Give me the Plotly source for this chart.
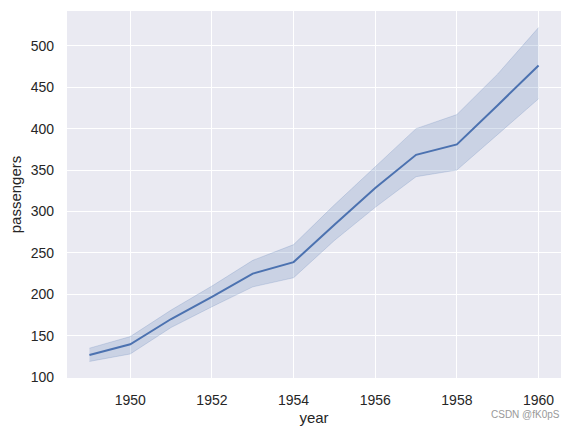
import plotly.graph_objects as go

years = [1949, 1950, 1951, 1952, 1953, 1954, 1955, 1956, 1957, 1958, 1959, 1960]
mean_passengers = [126.7, 139.7, 170.2, 197.0, 225.0, 238.9, 284.0, 328.3, 368.4, 381.0, 428.3, 476.2]
ci_lower = [119, 128, 160, 185, 209, 220, 265, 305, 342, 350, 393, 436]
ci_upper = [135, 149, 181, 210, 241, 260, 308, 354, 400, 417, 466, 522]
x_ticks = [1950, 1952, 1954, 1956, 1958, 1960]
y_ticks = [100, 150, 200, 250, 300, 350, 400, 450, 500]

line_color = "#4C72B0"
fig = go.Figure()
fig.add_trace(go.Scatter(x=years, y=ci_lower, mode="lines", line=dict(width=0.8, color="rgba(76,114,176,0.25)"),
                         showlegend=False, hoverinfo="skip"))
fig.add_trace(go.Scatter(x=years, y=ci_upper, mode="lines", line=dict(width=0.8, color="rgba(76,114,176,0.25)"),
                         fill="tonexty", fillcolor="rgba(76,114,176,0.2)", showlegend=False, hoverinfo="skip"))
fig.add_trace(go.Scatter(x=years, y=mean_passengers, mode="lines", line=dict(width=2, color=line_color),
                         showlegend=False))

font = "Liberation Sans, Arial, sans-serif"
fig.update_layout(
    width=576, height=430,
    margin=dict(l=67, r=15, t=11, b=52),
    paper_bgcolor="white", plot_bgcolor="#EAEAF2",
    font=dict(family=font, size=14, color="#262626"),
    xaxis=dict(range=[1948.45, 1960.55], tickvals=x_ticks, showgrid=True, gridcolor="white", gridwidth=1.4,
               zeroline=False, showline=False, ticks="", automargin=False, ticklabelstandoff=12,
               title=dict(text="year", font=dict(size=15), standoff=5)),
    yaxis=dict(range=[99, 542], tickvals=y_ticks, showgrid=True, gridcolor="white", gridwidth=1.4,
               zeroline=False, showline=False, ticks="", automargin=False, ticklabelstandoff=12,
               title=dict(text="passengers", font=dict(size=15), standoff=5)),
)
fig.add_annotation(text="CSDN @fK0pS", xref="paper", yref="paper", x=1.0, y=-0.10,
                   xanchor="right", yanchor="middle", showarrow=False, xshift=1,
                   font=dict(size=10, color="#999999", family=font))
fig.write_html("out.html", post_script="document.body.style.margin='0';",
               config={"displayModeBar": False})
